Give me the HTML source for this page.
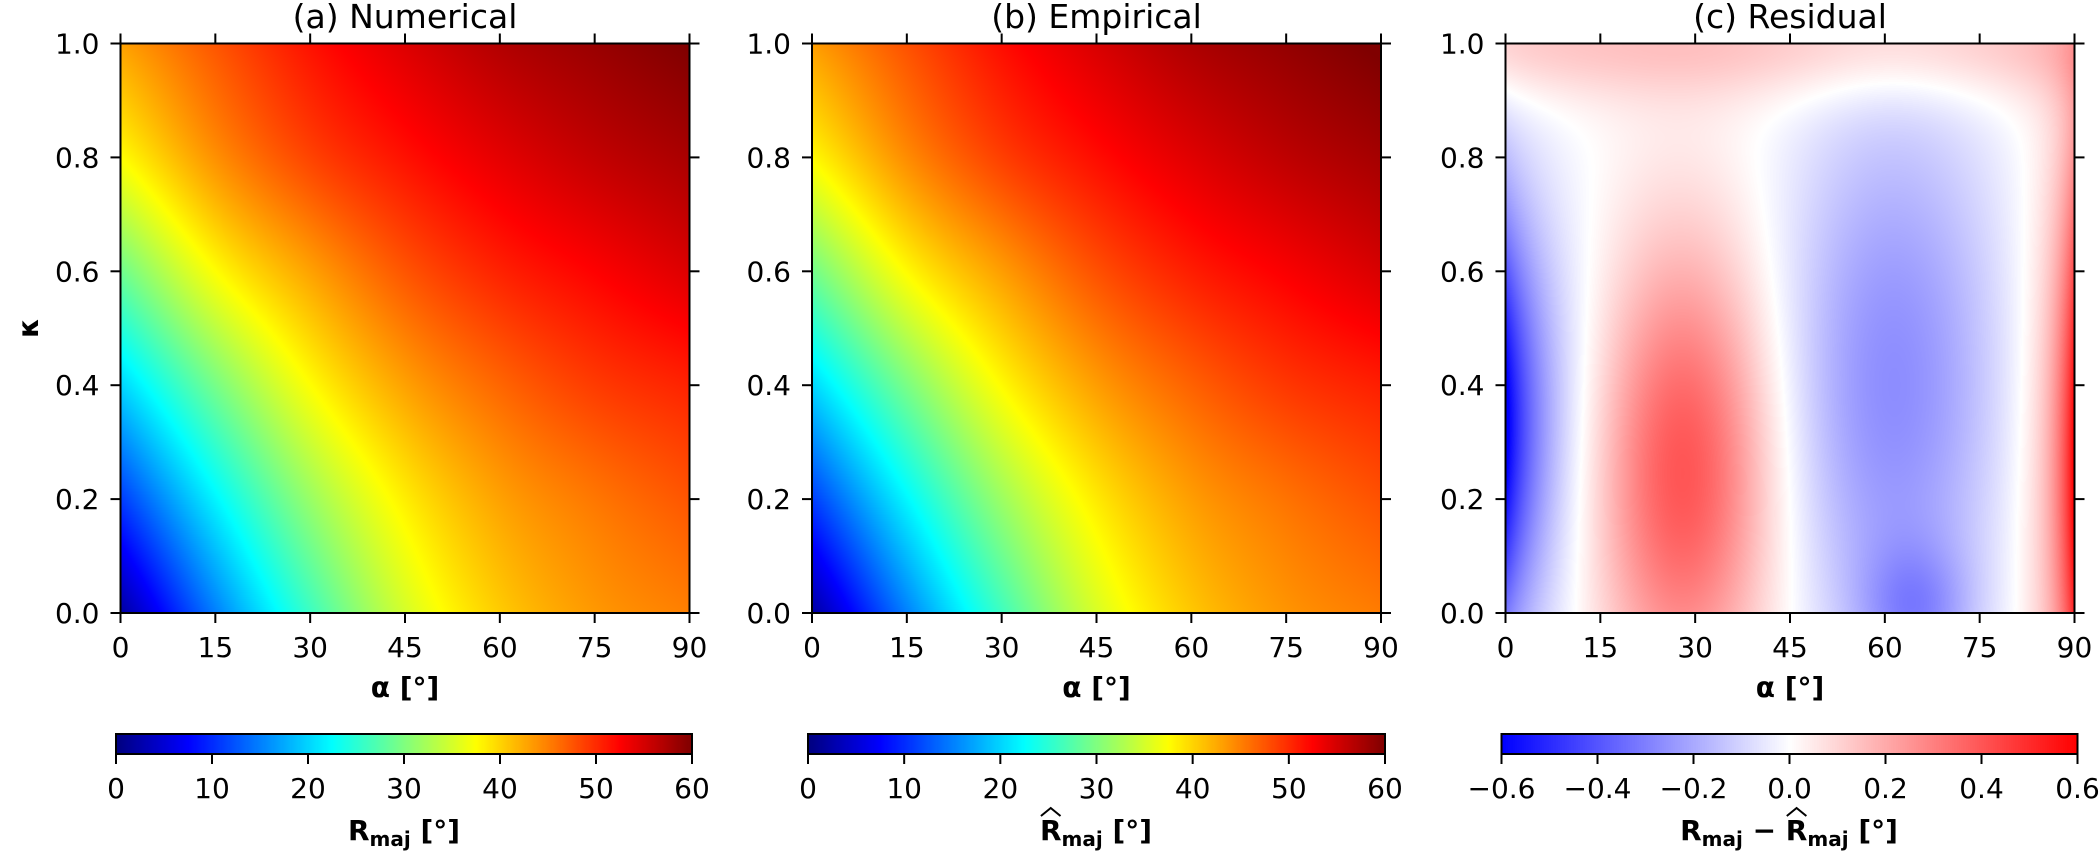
<!DOCTYPE html>
<html><head><meta charset="utf-8"><style>
html,body{margin:0;padding:0;background:#fff;}
#w{position:relative;width:2100px;height:857px;overflow:hidden;}
canvas{position:absolute;}
svg{position:absolute;left:0;top:0;}
text{font-family:"DejaVu Sans","Liberation Sans",sans-serif;fill:#000;}
</style></head><body><div id="w">
<canvas id="ca" width="569" height="569" style="left:120.5px;top:43.5px;width:569px;height:569.5px"></canvas>
<canvas id="cb" width="569" height="569" style="left:812px;top:43.5px;width:569px;height:569.5px"></canvas>
<canvas id="cc" width="569" height="569" style="left:1505.5px;top:43.5px;width:569px;height:569.5px"></canvas>
<canvas id="ba" width="576" height="20" style="left:116px;top:734px;width:576px;height:20px"></canvas>
<canvas id="bb" width="577" height="20" style="left:808px;top:734px;width:577px;height:20px"></canvas>
<canvas id="bc" width="576" height="20" style="left:1501.5px;top:734px;width:576px;height:20px"></canvas>
<svg id="s" width="2100" height="857"></svg>
</div>
<script>
function cl(v){return v<0?0:v>1?1:v;}
function jet(x){return [cl(1.5-Math.abs(4*x-3)),cl(1.5-Math.abs(4*x-2)),cl(1.5-Math.abs(4*x-1))];}
function bwr(x){return x<0.5?[2*x,2*x,1]:[1,2*(1-x),2*(1-x)];}
var G=[
[2,15,26,35,40.5,43.5,45],
[11,22,31.5,38.5,43,45.5,47.5],
[20,29.5,37.5,43,46.5,49,50.5],
[29,37.5,43,47.5,50.5,52.5,54.5],
[37.5,44,48.5,51.5,54,56,57.5],
[43,47.5,51.5,54.5,57,58.5,60]];
function gv(j,i){j=Math.max(0,Math.min(5,j));i=Math.max(0,Math.min(6,i));return G[j][i];}
function cr(p0,p1,p2,p3,t){return 0.5*((2*p1)+(-p0+p2)*t+(2*p0-5*p1+4*p2-p3)*t*t+(-p0+3*p1-3*p2+p3)*t*t*t);}
function row(j,x){var i=Math.min(5,Math.floor(x)),t=x-i;
var p0=i>0?gv(j,i-1):2*gv(j,0)-gv(j,1),p3=i<5?gv(j,i+2):2*gv(j,6)-gv(j,5);
return cr(p0,gv(j,i),gv(j,i+1),p3,t);}
function R(u,v){var x=u*6,y=v*5;var j=Math.min(4,Math.floor(y)),t=y-j;
var r1=row(j,x),r2=row(j+1,x);
var r0=j>0?row(j-1,x):2*r1-r2,r3=j<4?row(j+2,x):2*r2-r1;
return cr(r0,r1,r2,r3,t);}
function res(u,v){
var f=-0.65*Math.exp(-u/0.08)*Math.exp(-Math.pow((v-0.33)/0.4,2));
f+=0.42*Math.exp(-Math.pow((u-0.31)/0.16,2)-Math.pow((v-0.25)/0.4,2));
f-=0.27*Math.exp(-Math.pow((u-0.68)/0.2,2)-Math.pow((v-0.4)/0.5,2));
f-=0.18*Math.exp(-Math.pow((u-0.72)/0.1,2)-Math.pow(v/0.12,2));
f+=0.65*Math.exp(-(1-u)/0.045)*Math.exp(-Math.pow((v-0.25)/0.6,2));
f+=0.14*Math.exp(-Math.pow((1-v)/0.1,2));
return f;}
function draw(id,fn){var c=document.getElementById(id),g=c.getContext('2d'),W=c.width,H=c.height,im=g.createImageData(W,H),d=im.data;
for(var y=0;y<H;y++){var v=1-(y+0.5)/H;for(var x=0;x<W;x++){var u=(x+0.5)/W;var col=fn(u,v);var k=4*(y*W+x);d[k]=col[0]*255;d[k+1]=col[1]*255;d[k+2]=col[2]*255;d[k+3]=255;}}
g.putImageData(im,0,0);}
draw('ca',function(u,v){return jet(cl(R(u,v)/60));});
draw('cb',function(u,v){return jet(cl(R(u,v)*1.005/60));});
draw('cc',function(u,v){return bwr(cl((res(u,v)+0.6)/1.2));});
draw('ba',function(u){return jet(u);});
draw('bb',function(u){return jet(u);});
draw('bc',function(u){return bwr(u);});
var s='';
function L(x1,y1,x2,y2){s+='<line x1="'+x1+'" y1="'+y1+'" x2="'+x2+'" y2="'+y2+'" stroke="#000" stroke-width="2"/>';}
function T(x,y,t,a,ex){s+='<text x="'+x+'" y="'+y+'" text-anchor="'+(a||'middle')+'" '+(ex||'font-size="28"')+'>'+t+'</text>';}
var panels=[[120.5,689.5,'(a) Numerical'],[812,1381,'(b) Empirical'],[1505.5,2074.5,'(c) Residual']];
var yT=43.5,yB=613;
panels.forEach(function(p,i){var x0=p[0],x1=p[1];
s+='<rect x="'+x0+'" y="'+yT+'" width="'+(x1-x0)+'" height="'+(yB-yT)+'" fill="none" stroke="#000" stroke-width="2"/>';
for(var k=0;k<=6;k++){var x=x0+(x1-x0)*k/6;L(x,yB,x,yB+10);L(x,yT,x,yT-10);T(x,657,String(k*15));}
for(var k=0;k<=5;k++){var y=yB-(yB-yT)*k/5;L(x0,y,x0-10,y);L(x1,y,x1+10,y);T(x0-21,y+10,(k/5).toFixed(1),'end');}
T((x0+x1)/2,28,p[2],'middle','font-size="33"');
T((x0+x1)/2,697,'α [°]','middle','font-size="28" font-weight="bold"');
});
var bars=[[116,692],[808,1385],[1501.5,2077.5]];
bars.forEach(function(b,i){var x0=b[0],x1=b[1];
s+='<rect x="'+x0+'" y="734" width="'+(x1-x0)+'" height="20" fill="none" stroke="#000" stroke-width="2"/>';
for(var k=0;k<=6;k++){var x=x0+(x1-x0)*k/6;L(x,754,x,764);
var lab=i<2?String(k*10):((k-3)*0.2).toFixed(1).replace('-','−');T(x,798,lab);}
});
var cy=840;
s+='<text x="404" y="'+cy+'" text-anchor="middle" font-size="28" font-weight="bold">R<tspan font-size="20" dy="6">maj</tspan><tspan dy="-6"> [°]</tspan></text>';
s+='<text id="lb" x="1096" y="'+cy+'" text-anchor="middle" font-size="28" font-weight="bold">R<tspan font-size="20" dy="6">maj</tspan><tspan dy="-6"> [°]</tspan></text>';
s+='<text id="lc" x="1789" y="'+cy+'" text-anchor="middle" font-size="28" font-weight="bold">R<tspan font-size="20" dy="6">maj</tspan><tspan dy="-6"> − R</tspan><tspan font-size="20" dy="6">maj</tspan><tspan dy="-6"> [°]</tspan></text>';
s+='<text x="0" y="0" transform="translate(38,328) rotate(-90)" text-anchor="middle" font-size="28" font-weight="bold">κ</text>';
var svg=document.getElementById('s');svg.innerHTML=s;
function hat(id,idx){var t=document.getElementById(id);try{var a=t.getStartPositionOfChar(idx).x,b=t.getEndPositionOfChar(idx).x;
var p=document.createElementNS('http://www.w3.org/2000/svg','path');p.setAttribute('d','M'+(a+1)+' 816 L'+((a+b)/2)+' 808 L'+(b-1)+' 816');p.setAttribute('fill','none');p.setAttribute('stroke','#000');p.setAttribute('stroke-width','2');svg.appendChild(p);}catch(e){}}
hat('lb',0);
hat('lc',7);
</script></body></html>
